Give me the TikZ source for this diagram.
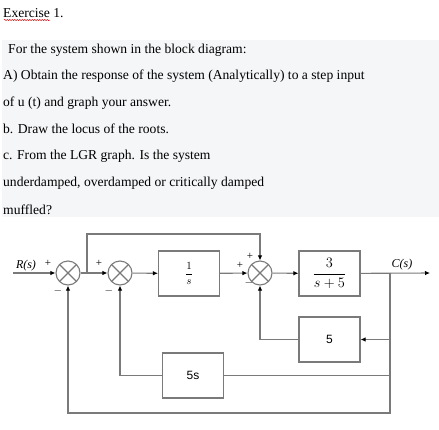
\documentclass[tikz,border=0pt]{standalone}
\usepackage{fontspec}
\setmainfont{Liberation Serif}
\setsansfont{Liberation Sans}
\usepackage{amsmath}
\usetikzlibrary{arrows.meta}
\usetikzlibrary{positioning}
\usetikzlibrary{decorations.pathmorphing}

\definecolor{boxbg}{HTML}{F5F6F8}
\definecolor{wire}{HTML}{7A7A7A}

\tikzset{
    txtline/.style={anchor=west, inner sep=0pt, font=\fontsize{13.6}{16}\selectfont},
    blk/.style={draw=wire, line width=1.1pt, minimum width=61pt, minimum height=45pt, inner sep=0pt},
    sumnode/.style={circle, draw=wire, line width=1.1pt, minimum size=24pt, inner sep=0pt,
        path picture={
            \draw[wire, line width=1.1pt] (path picture bounding box.north west) -- (path picture bounding box.south east);
            \draw[wire, line width=1.1pt] (path picture bounding box.south west) -- (path picture bounding box.north east);
        }},
    wireline/.style={draw=wire, line width=1.1pt},
    arr/.style={wireline, -{Latex[length=5pt,width=4.5pt,color=black]}},
    sgn/.style={font=\fontsize{11}{11}\selectfont, inner sep=0pt},
    siglab/.style={font=\fontsize{12}{12}\selectfont\itshape, inner sep=0pt}
}

\begin{document}
\begin{tikzpicture}[x=1pt, y=-1pt]
        \useasboundingbox (0,0) rectangle (439,429);
        \fill[white] (0,0) rectangle (439,429);
        \fill[boxbg] (2,40) rectangle (439,217);

        % the exercise text
        \node[txtline] (title) at (3,13) {Exercise 1.};
        \draw[red!80!black, line width=0.5pt, decorate, decoration={snake, amplitude=0.6pt, segment length=2.5pt}]
            (4,20) -- (50,20);
        \node[txtline] (l1) at (8,50) {For the system shown in the block diagram:};
        \node[txtline] (l2) at (3,76) {A) Obtain the response of the system (Analytically) to a step input};
        \node[txtline] (l3) at (3,103) {of u (t) and graph your answer.};
        \node[txtline] (l4) at (3,129) {b. Draw the locus of the roots.};
        \node[txtline] (l5) at (3,156) {c. From the LGR graph. Is the system};
        \node[txtline] (l6) at (3,183) {underdamped, overdamped or critically damped};
        \node[txtline] (l7) at (3,210) {muffled?};

        % block diagram
        \node[sumnode] (s1) at (68,273) {};
        \node[sumnode] (s2) at (120,273) {};
        \node[sumnode] (s3) at (260,273) {};
        \node[blk, font=\fontsize{11}{12}\selectfont] (integ) at (189,273.5) {$\dfrac{1}{s}$};
        \node[blk, font=\fontsize{15}{16}\selectfont] (plant) at (329.5,273.5) {$\dfrac{3}{s+5}$};
        \node[blk, font=\fontsize{12}{12}\selectfont\sffamily] (kfb) at (329.5,339.5) {5};
        \node[blk, font=\fontsize{12}{12}\selectfont\sffamily] (dfb) at (193,375.5) {5s};

        \coordinate (rin) at (13,273);
        \coordinate (cout) at (430,273);
        \coordinate (br) at (87,273);
        \coordinate (tp) at (260,234);
        \coordinate (ct) at (390,273);
        \coordinate (bt) at (68,413);

        \draw[arr] (rin) -- (s1.west);
        \draw[arr] (s1) -- (s2);
        \draw[arr] (s2) -- (integ);
        \draw[arr] (integ) -- (s3);
        \draw[arr] (s3) -- (plant);
        \draw[arr] (plant) -- (cout);
        \draw[arr] (br) |- (tp) -- (s3.north);
        \draw[arr] (ct) |- (kfb.east);
        \draw[arr] (kfb.west) -| (s3.south);
        \draw[wireline] (ct) |- (dfb.east);
        \draw[arr] (dfb.west) -| (s2.south);
        \draw[arr] (ct) |- (bt) -- (s1.south);

        % labels
        \node[siglab] (rlab) at (26,266) {R(s)};
        \node[siglab] (clab) at (402,265) {C(s)};
        \node[sgn] at (48,263) {+};
        \node[sgn] at (58,291) {$-$};
        \node[sgn] at (99,263) {+};
        \node[sgn] at (109,291) {$-$};
        \node[sgn] at (240,265) {+};
        \node[sgn] at (250,256) {+};
        \node[sgn] at (249,283) {$-$};
\end{tikzpicture}
\end{document}
